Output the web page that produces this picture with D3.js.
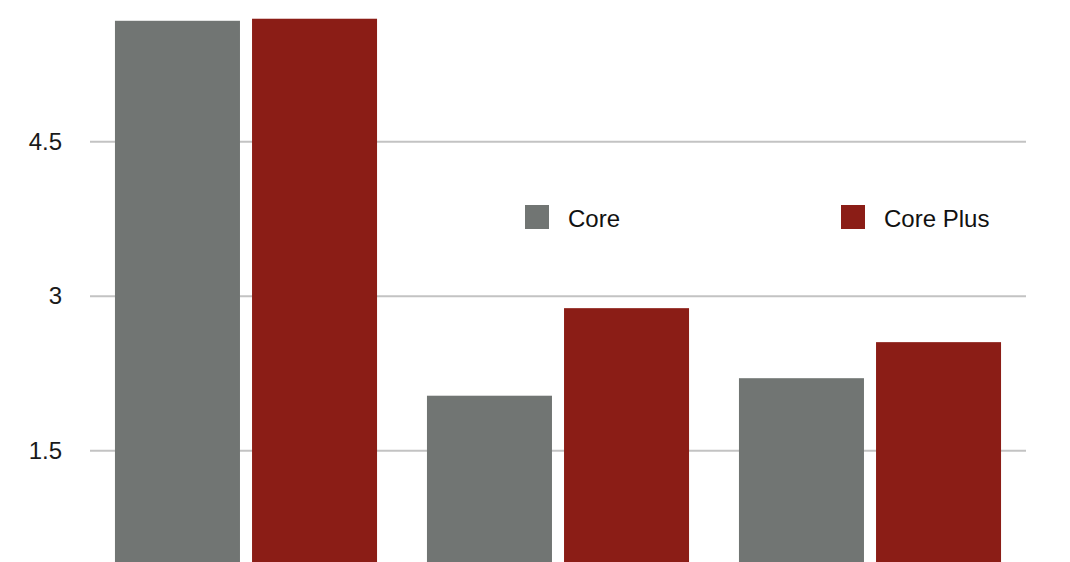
<!DOCTYPE html>
<html>
<head>
<meta charset="utf-8">
<script src="https://cdn.jsdelivr.net/npm/d3@7"></script>
<style>
  html, body { margin: 0; padding: 0; background: #fff; }
  svg { display: block; font-family: "Liberation Sans", Arial, Helvetica, sans-serif; }
</style>
</head>
<body>
<svg id="chart"></svg>
<script>
// Data
const groups = ["Group A", "Group B", "Group C"];
const seriesNames = ["Core", "Core Plus"];
const coreValues = [5.67, 2.03, 2.20];
const corePlusValues = [5.69, 2.88, 2.55];
const yTicks = [1.5, 3, 4.5];

const colors = { "Core": "#717573", "Core Plus": "#8b1d16" };

const width = 1070, height = 562;
const svg = d3.select("#chart").attr("width", width).attr("height", height);

const rows = groups.map((g, i) => ({ group: g, Core: coreValues[i], "Core Plus": corePlusValues[i] }));

// scales
const x0 = d3.scaleBand().domain(groups).range([90, 1026]).paddingInner(0.16).paddingOuter(0.08);
const x1 = d3.scaleBand().domain(seriesNames).range([0, x0.bandwidth()]).paddingInner(0.088);
const y = d3.scaleLinear().domain([0, 6]).range([604.8, -13.2]);

// gridlines
const grid = svg.append("g")
    .attr("transform", "translate(90,0)")
    .call(d3.axisLeft(y).tickValues(yTicks).tickSize(-(1026 - 90)).tickFormat(""));
grid.select(".domain").remove();
grid.selectAll("line").attr("stroke", "#c3c3c3").attr("stroke-width", 2);

// tick labels
svg.append("g").selectAll("text")
    .data(yTicks).enter().append("text")
    .attr("x", 62).attr("y", d => y(d))
    .attr("dy", "0.36em")
    .attr("text-anchor", "end")
    .attr("font-size", "24px")
    .attr("fill", "#1a1a1a")
    .text(d => d);

// bars
const g = svg.append("g").selectAll("g")
    .data(rows).enter().append("g")
    .attr("transform", d => `translate(${x0(d.group)},0)`);

g.selectAll("rect")
    .data(d => seriesNames.map(k => ({ key: k, value: d[k] })))
    .enter().append("rect")
    .attr("x", d => x1(d.key))
    .attr("y", d => y(d.value))
    .attr("width", x1.bandwidth())
    .attr("height", d => y(0) - y(d.value))
    .attr("fill", d => colors[d.key]);

// legend
const legendX = [525, 841];
const legend = svg.append("g").selectAll("g")
    .data(seriesNames).enter().append("g")
    .attr("transform", (d, i) => `translate(${legendX[i]},205)`);
legend.append("rect").attr("width", 24).attr("height", 24).attr("fill", d => colors[d]);
legend.append("text").attr("x", 43).attr("y", 22)
    .attr("font-size", "24px").attr("fill", "#111")
    .text(d => d);
</script>
</body>
</html>
